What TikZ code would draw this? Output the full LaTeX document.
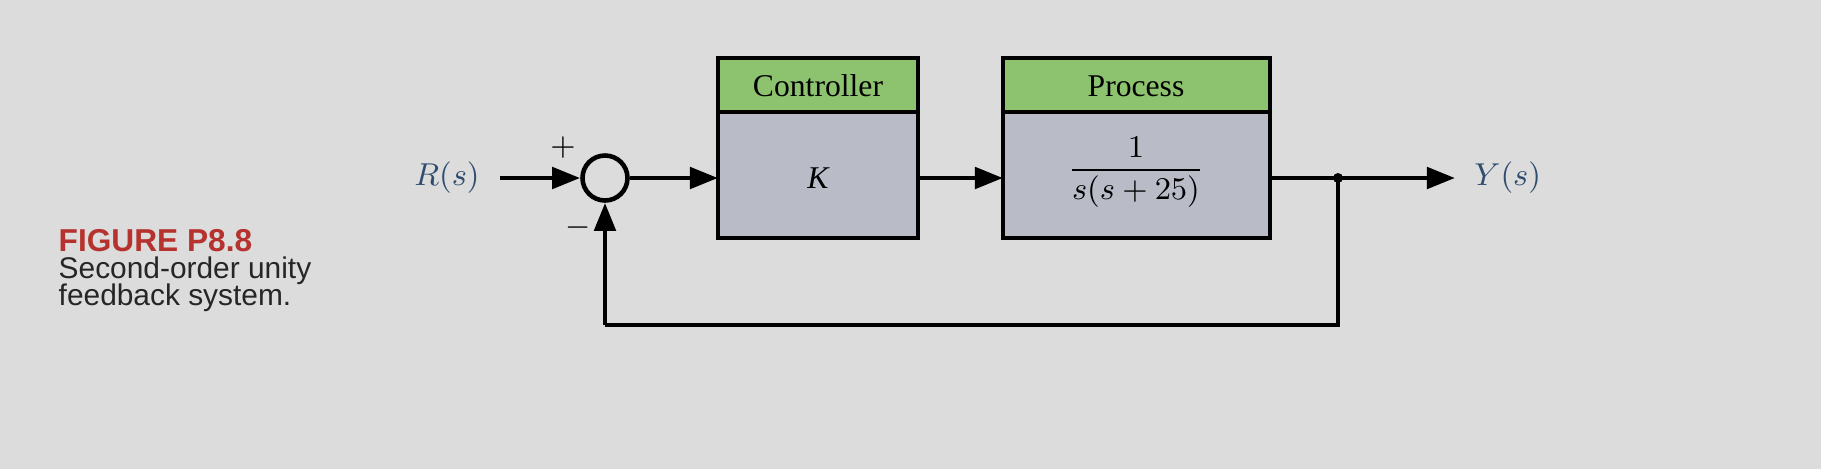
\documentclass[tikz,border=0pt]{standalone}
\usepackage{fontspec}
\setmainfont{Liberation Serif}
\newfontfamily\capfont{Liberation Sans}
\usetikzlibrary{arrows.meta}
\definecolor{bg}{HTML}{DCDCDC}
\definecolor{hdr}{HTML}{8DC26F}
\definecolor{body}{HTML}{B9BCC7}
\definecolor{sig}{HTML}{2F4D6E}
\definecolor{figred}{HTML}{B5322E}
\tikzset{
  blk/.style={draw=black, line width=1.2pt, fill=body},
  hd/.style={draw=black, line width=1.2pt, fill=hdr},
  wire/.style={line width=1.4pt, -{Triangle[length=8pt,width=6pt]}},
  plain/.style={line width=1.4pt},
  txt/.style={font=\fontsize{9}{11}\selectfont},
  lab/.style={font=\fontsize{9}{11}\selectfont, text=sig},
  captext/.style={font=\capfont\fontsize{8.5}{10}\selectfont, anchor=west, inner sep=0pt}
}
\begin{document}
\begin{tikzpicture}[x=0.01cm,y=-0.01cm]
\fill[bg] (0,0) rectangle (1821,469);
\useasboundingbox (0,0) rectangle (1821,469);
% controller
\draw[blk] (718,112) rectangle (918,238);
\draw[hd] (718,58) rectangle (918,112);
\node[txt] (ctitle) at (818,86) {Controller};
\node[txt] (cK) at (818,178) {\itshape K};
% process
\draw[blk] (1003,112) rectangle (1270,238);
\draw[hd] (1003,58) rectangle (1270,112);
\node[txt] (ptitle) at (1136,86) {Process};
\node[txt] (ptf) at (1136,172) {$\displaystyle\frac{1}{s(s+25)}$};
% sum
\node[draw, line width=1.3pt, circle, minimum size=45*0.01cm, inner sep=0pt] (sum) at (605,178) {};
\node[txt] (plus) at (563,148) {$+$};
\node[txt] (minus) at (578,228) {$-$};
\node[lab, anchor=east] (R) at (492,178) {$R(s)$};
\node[lab, anchor=west] (Y) at (1462,178) {$Y(s)$};
\coordinate (ci) at (718,178);
\coordinate (co) at (918,178);
\coordinate (pi) at (1003,178);
\coordinate (po) at (1270,178);
\coordinate (rs) at (500,178);
\coordinate (ye) at (1455,178);
\coordinate (jn) at (1338,178);
\coordinate (fb1) at (1338,325);
\coordinate (fb2) at (605,325);
\draw[wire] (rs) -- (sum.west);
\draw[wire] (sum.east) -- (ci);
\draw[wire] (co) -- (pi);
\draw[wire] (po) -- (ye);
\fill (jn) circle (5);
\draw[plain] (jn) -- (fb1) -- (fb2);
\draw[wire] (fb2) -- (sum.south);
% caption
\node[captext, text=figred, font=\capfont\bfseries\fontsize{9}{11}\selectfont] (fig) at (58,241) {FIGURE P8.8};
\node[captext, text=black!85] (c1) at (58,271) {Second-order unity};
\node[captext, text=black!85] (c2) at (58,298) {feedback system.};
\end{tikzpicture}
\end{document}
